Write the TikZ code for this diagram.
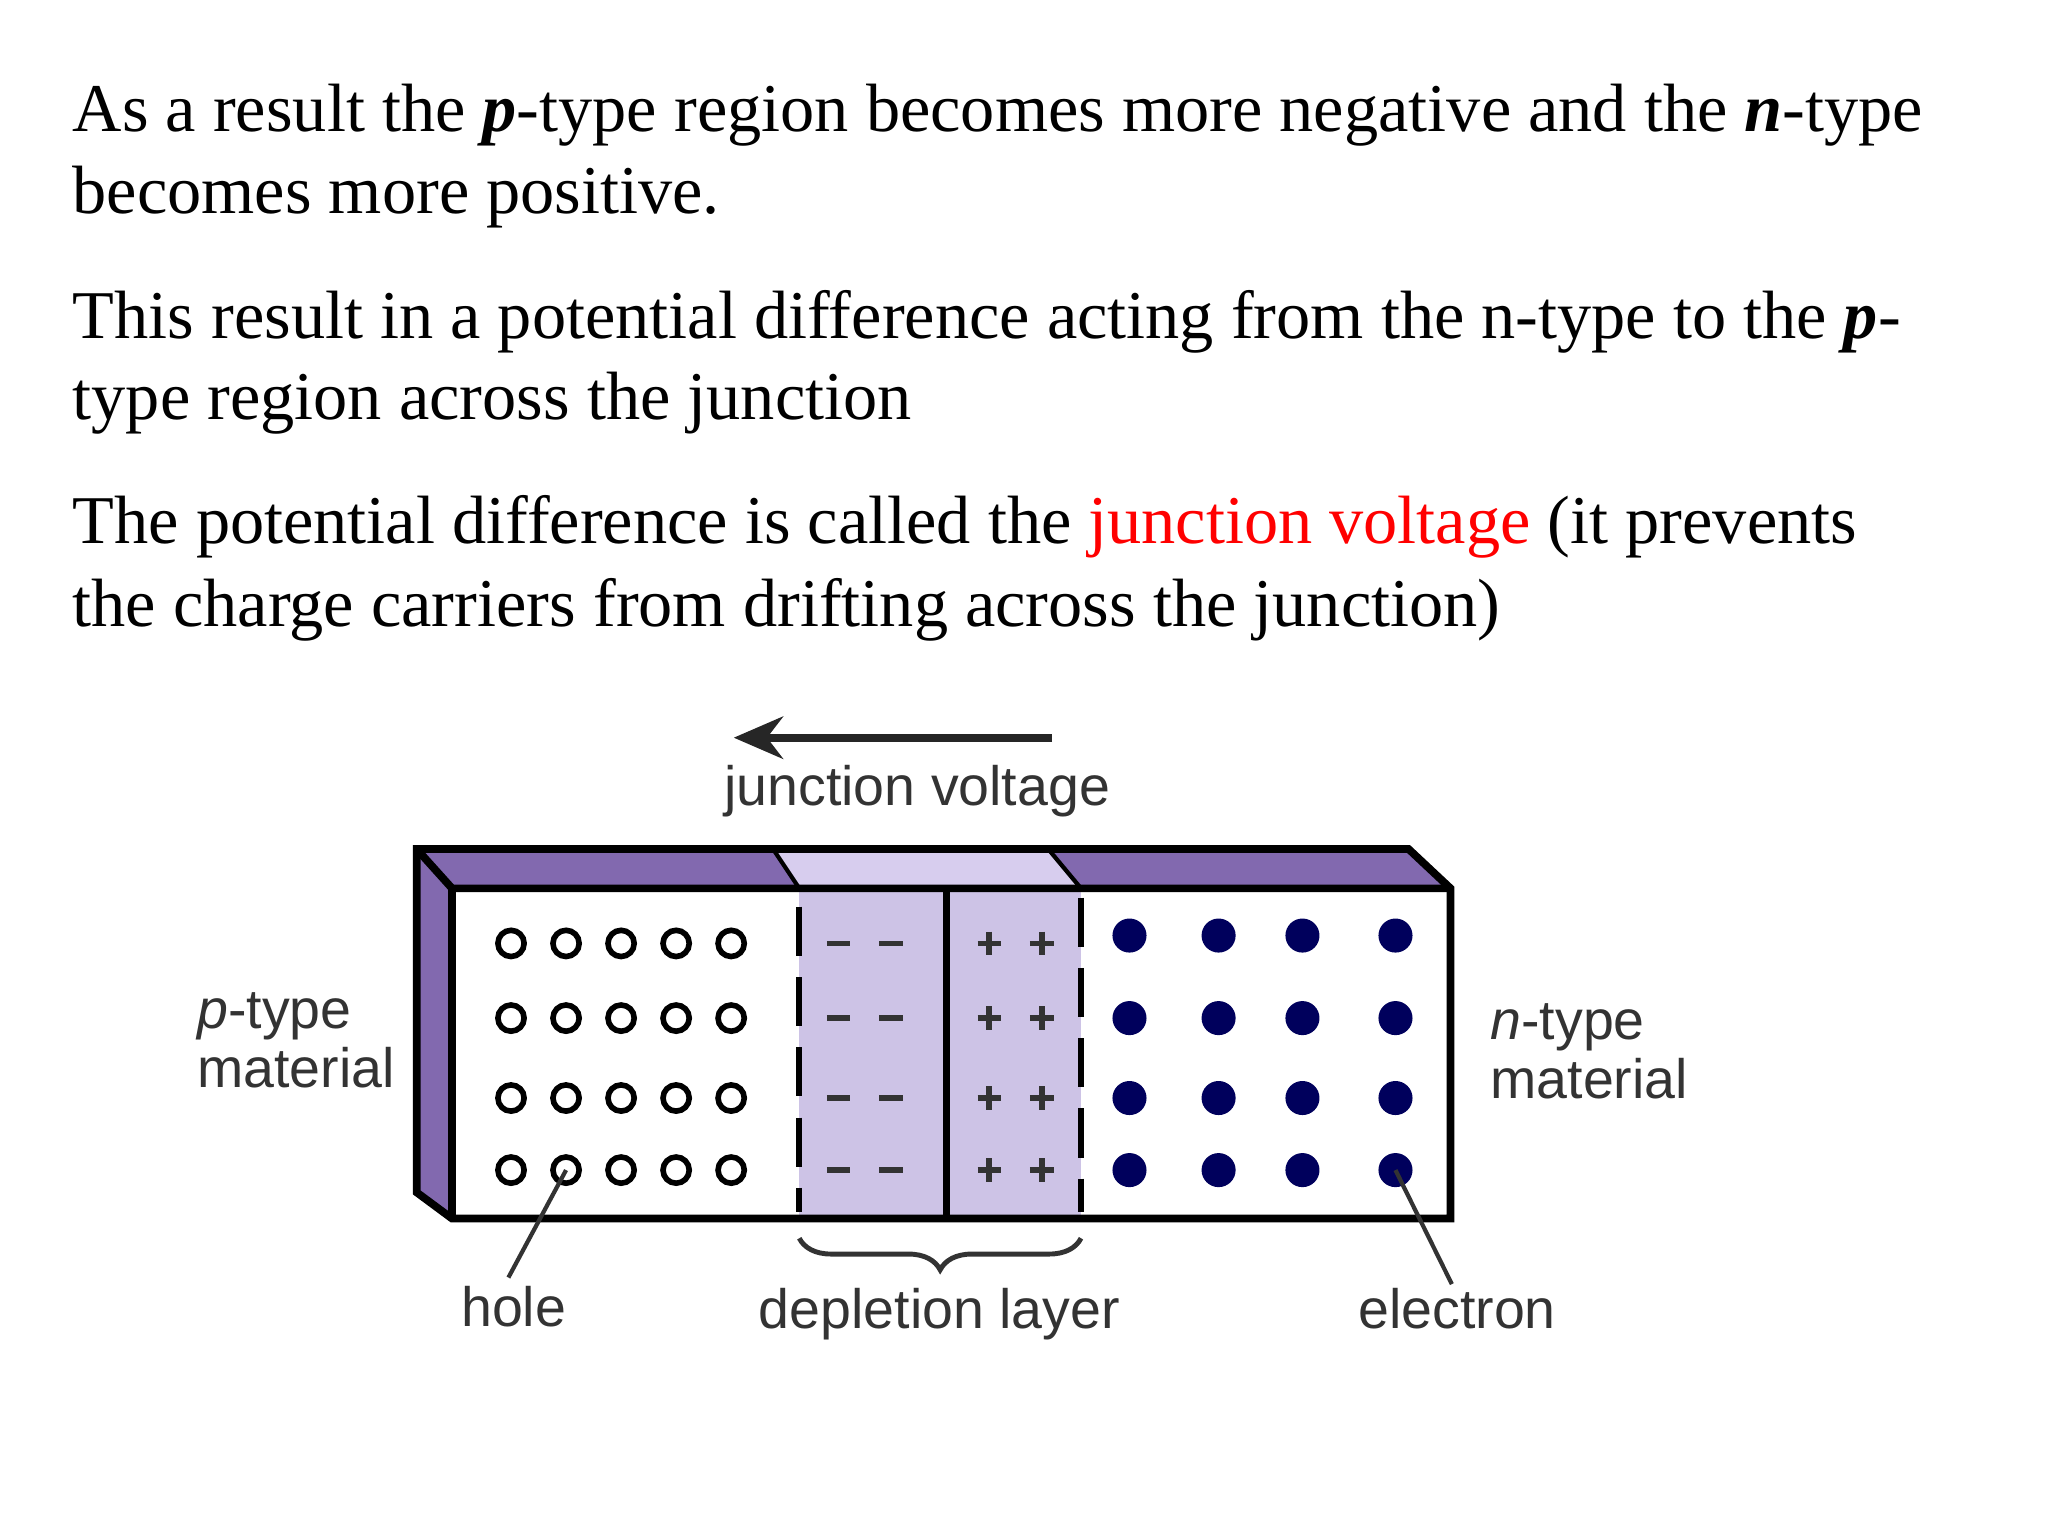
\documentclass[tikz,border=0pt]{standalone}
\usepackage{fontspec}
\setmainfont{Liberation Serif}
\newfontfamily\lab{Liberation Sans}
\usetikzlibrary{decorations.pathreplacing,arrows.meta}
\definecolor{pdark}{RGB}{130,105,175}
\definecolor{plight}{RGB}{205,195,230}
\definecolor{ptop}{RGB}{215,205,238}
\begin{document}
\begin{tikzpicture}[x=0.013103cm,y=-0.013103cm,
  body/.style={anchor=base west,inner sep=0,font=\fontsize{19.45}{22}\selectfont},
  lbl/.style={inner sep=0,font=\lab\fontsize{15.8}{18}\selectfont,text=black!80,align=left},
  holec/.style={draw=black,line width=1.6pt,fill=white},
  elec/.style={fill=black!40!blue!60!black},
  edge/.style={line width=2.2pt,black}]
\useasboundingbox (0,0) rectangle (1563,1172);
% text
\node[body] (t1) at (55,100) {As a result the \textbf{\textit{p}}-type region becomes more negative and the \textbf{\textit{n}}-type};
\node[body] (t2) at (55,163) {becomes more positive.};
\node[body] (t3) at (55,258) {This result in a potential difference acting from the n-type to the \textbf{\textit{p}}-};
\node[body] (t4) at (55,320) {type region across the junction};
\node[body] (t5) at (55,415) {The potential difference is called the \textcolor{red}{junction voltage} (it prevents};
\node[body] (t6) at (55,478) {the charge carriers from drifting across the junction)};
% top face
\fill[pdark] (318,648) -- (1075,648) -- (1107,678) -- (345,678) -- cycle;
\fill[ptop] (590,648) -- (800,648) -- (825,678) -- (610,678) -- cycle;
% left face
\fill[pdark] (318,648) -- (345,678) -- (345,930) -- (318,910) -- cycle;
% depletion
\fill[plight] (610,678) rectangle (825,930);
\draw[edge] (318,648) -- (1075,648) -- (1107,678) -- (1107,930) -- (345,930) -- (318,910) -- cycle;
\draw[edge] (318,648) -- (345,678) -- (1107,678);
\draw[edge] (345,678) -- (345,930);
\draw[line width=1.2pt] (590,648) -- (610,678) (800,648) -- (825,678);
\draw[line width=2pt] (722,678) -- (722,930);
\draw[line width=1.6pt,dash pattern=on 14pt off 6pt] (610,692) -- (610,925) (825,685) -- (825,925);
% carriers
\foreach \y [count=\r] in {720,777,838,893}{
  \foreach \x [count=\c] in {390,432,474,516,558}{\draw[holec] (\x,\y) circle (10);}
  \foreach \x in {640,680}{\draw[line width=1.6pt,black!80] (\x-9,\y) -- (\x+9,\y);}
  \foreach \x in {755,795}{\draw[line width=1.6pt,black!80] (\x-9,\y) -- (\x+9,\y) (\x,\y-9) -- (\x,\y+9);}
}
\foreach \y in {714,777,838,893}{
  \foreach \x in {862,930,994,1065}{\fill[elec] (\x,\y) circle (13);}
}
\coordinate (hl) at (432,893);
\coordinate (el) at (1065,893);
% labels
\node[lbl,anchor=base] (jv) at (700,615) {junction voltage};
\coordinate (aR) at (803,563);
\coordinate (aL) at (560,563);
\draw[line width=2.2pt,black!85,-{Stealth[length=14pt,width=12pt]}] (aR) -- (aL);
\node[lbl,anchor=base west] (pt) at (150,785) {\textit{p}-type};
\node[lbl,anchor=base west] (pm) at (150,830) {material};
\node[lbl,anchor=base west] (nt) at (1137,793) {\textit{n}-type};
\node[lbl,anchor=base west] (nm) at (1137,838) {material};
\node[lbl,anchor=base] (hole) at (392,1012) {hole};
\node[lbl,anchor=base] (dep) at (717,1014) {depletion layer};
\node[lbl,anchor=base] (ele) at (1112,1014) {electron};
\draw[line width=1.2pt,black!80] (hl) -- (388,975);
\draw[line width=1.2pt,black!80] (el) -- (1108,980);
\draw[line width=1.4pt,black!80,decorate,decoration={brace,mirror,amplitude=9pt}] (610,945) -- (825,945);
\end{tikzpicture}
\end{document}
